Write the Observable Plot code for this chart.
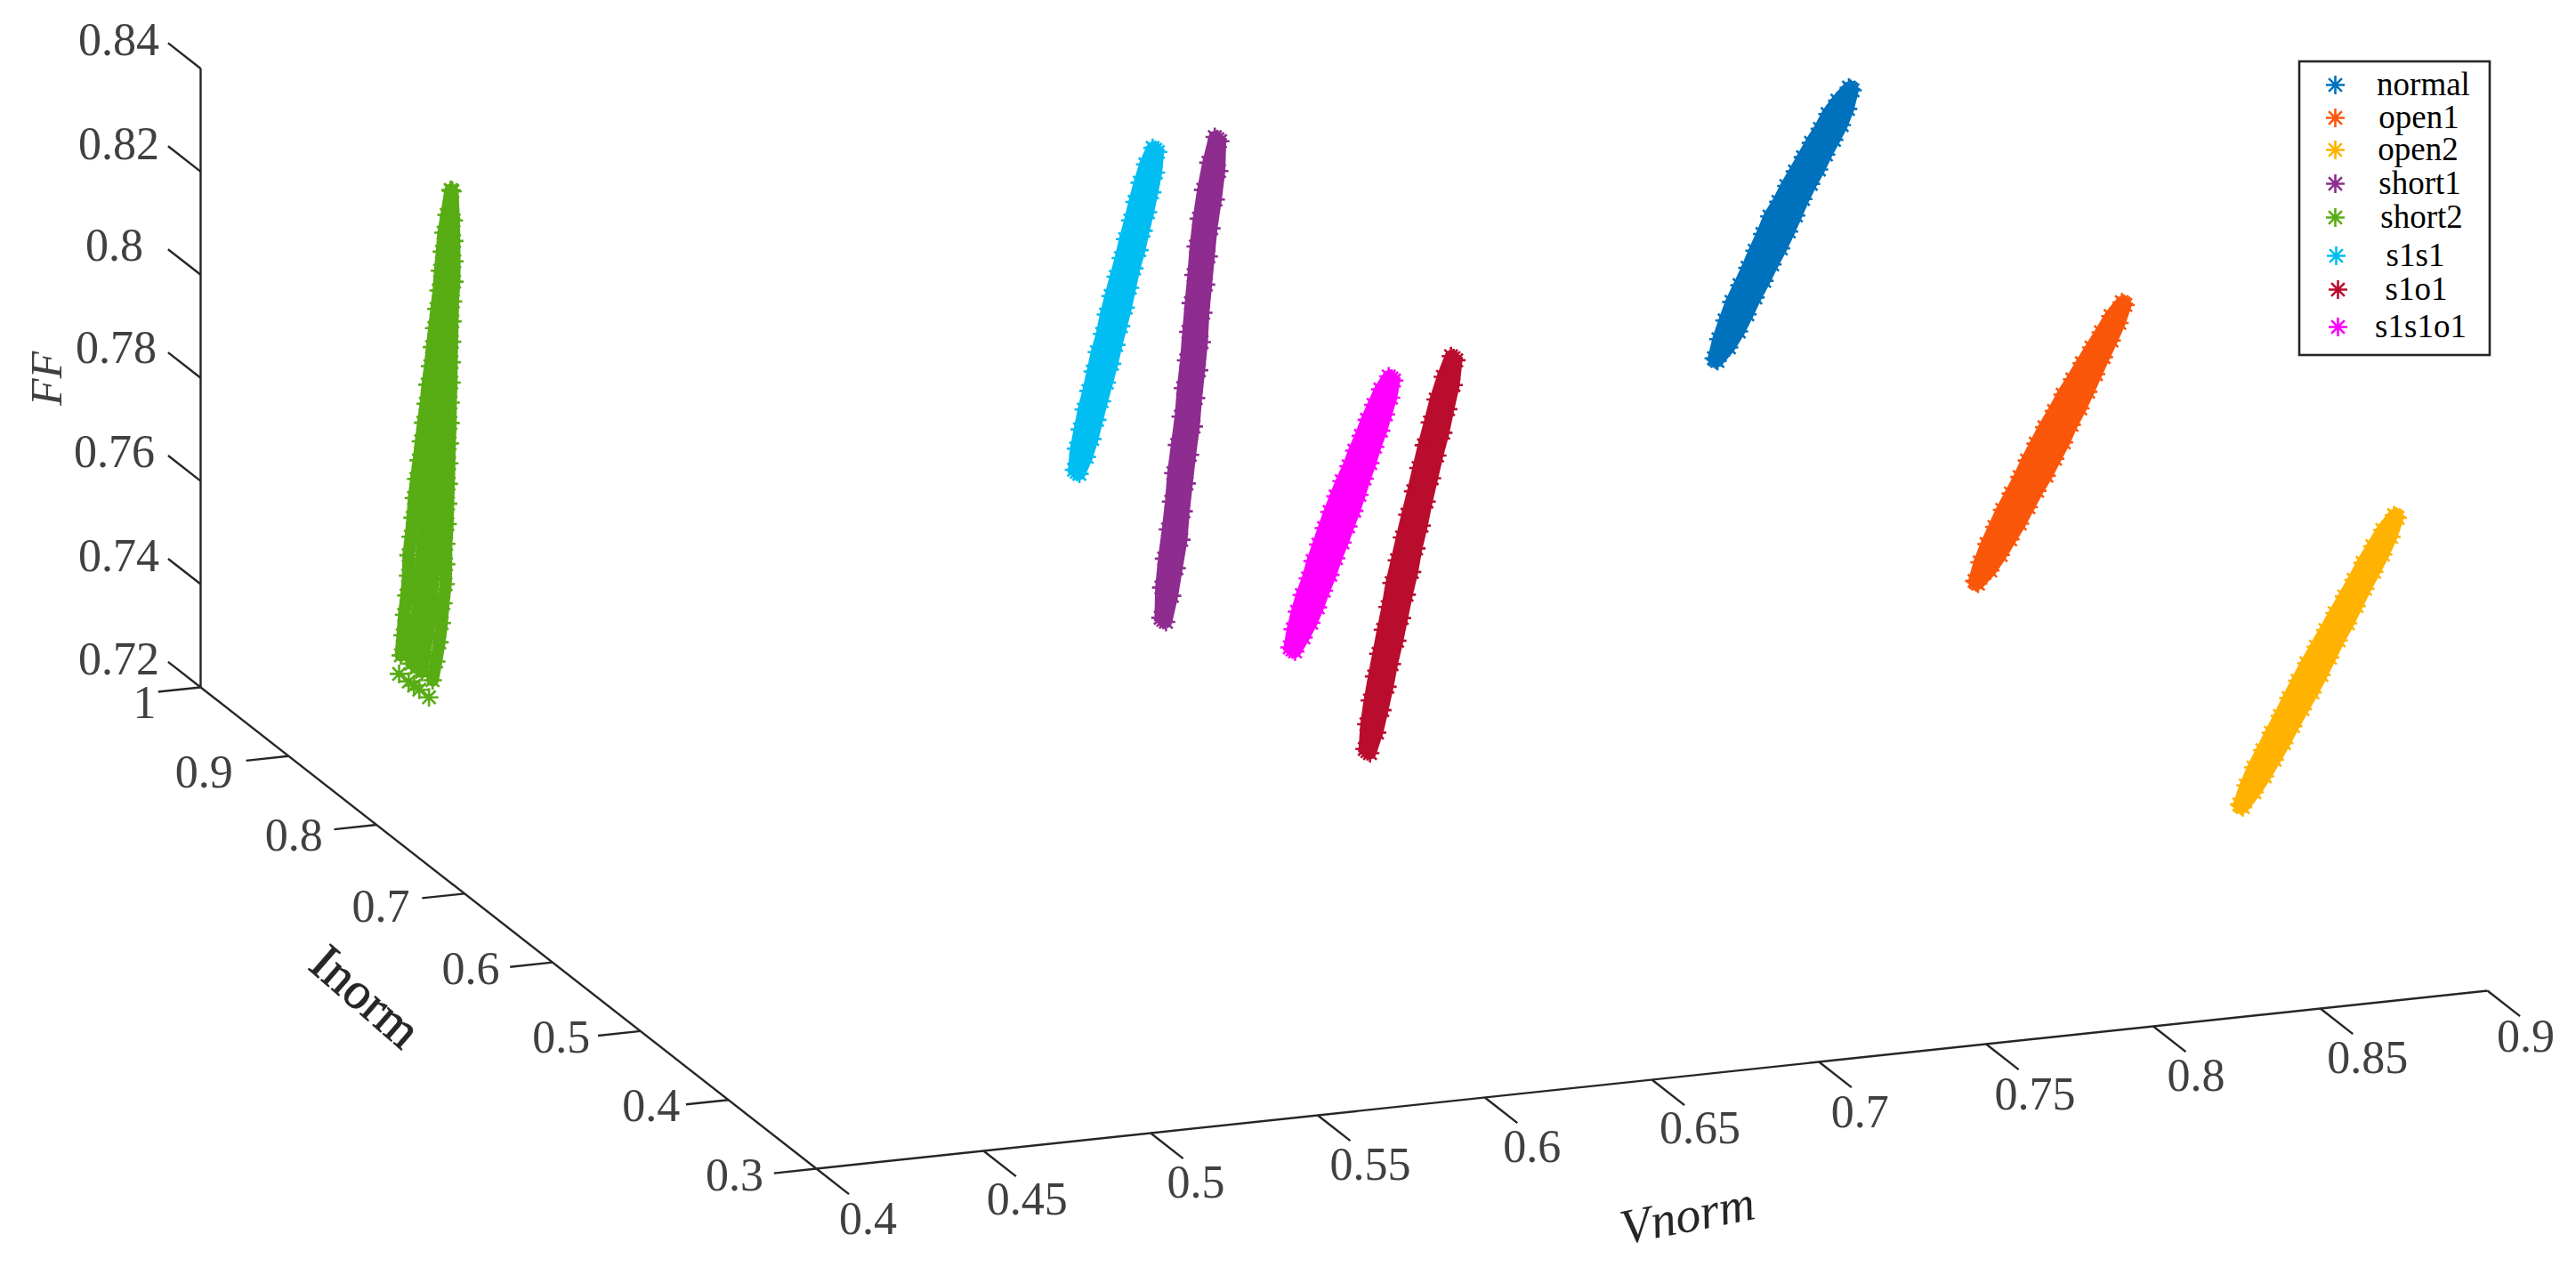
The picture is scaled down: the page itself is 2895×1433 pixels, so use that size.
<!DOCTYPE html>
<html>
<head>
<meta charset="utf-8">
<style>html,body{margin:0;padding:0;background:#fff}svg{display:block}</style>
<script src="https://cdn.jsdelivr.net/npm/d3@7"></script>
<script src="https://cdn.jsdelivr.net/npm/@observablehq/plot@0.6"></script>
</head>
<body>
<div id="chart"></div>
<script>
const seriesNames = ["normal","open1","open2","short1","short2","s1s1","s1o1","s1s1o1"];
const seriesColors = ["#0072BD","#FA570B","#FFB300","#8E2C90","#58AC14","#00BDF2","#BA0D2E","#FF00FF"];

const vTicks = [0.4,0.45,0.5,0.55,0.6,0.65,0.7,0.75,0.8,0.85,0.9];
const iTicks = [0.3,0.4,0.5,0.6,0.7,0.8,0.9,1];
const fTicks = [0.72,0.74,0.76,0.78,0.8,0.82,0.84];

const normalV = [.8270,.8294,.8318,.8341,.8365,.8389,.8413,.8436,.8460,.8484,.8508,.8531,.8555,.8579,.8603,.8626,.8650,.8674];
const normalF = [.7674,.7704,.7736,.7769,.7800,.7832,.7862,.7893,.7924,.7952,.7981,.8009,.8035,.8061,.8088,.8115,.8142,.8171];
const normalIc = [.9,.9,.9,.9,.9,.9,.9,.9,.9,.9,.9,.9,.9,.9,.9,.9,.9,.9];
const normalIa = [.902,.906,.908,.909,.909,.909,.910,.910,.911,.910,.910,.909,.909,.909,.908,.908,.906,.902];
const normalIb = [.898,.894,.892,.891,.891,.890,.890,.889,.889,.890,.891,.891,.891,.892,.892,.892,.894,.898];

const open1V = [.8260,.8286,.8312,.8338,.8364,.8390,.8416,.8441,.8467,.8493,.8519,.8545,.8571,.8597,.8623,.8649,.8675,.8701];
const open1F = [.7643,.7672,.7703,.7733,.7763,.7793,.7823,.7852,.7883,.7913,.7944,.7974,.8003,.8034,.8064,.8093,.8124,.8153];
const open1Ic = [.6,.6,.6,.6,.6,.6,.6,.6,.6,.6,.6,.6,.6,.6,.6,.6,.6,.6];
const open1Ia = [.602,.606,.608,.609,.610,.610,.610,.611,.611,.611,.610,.610,.609,.608,.607,.606,.605,.602];
const open1Ib = [.598,.594,.592,.591,.590,.590,.590,.589,.589,.589,.590,.590,.591,.592,.593,.594,.595,.598];

const open2V = [.8526,.8553,.8580,.8608,.8635,.8662,.8689,.8717,.8744,.8771,.8798,.8826,.8853,.8880,.8907,.8935,.8962,.8989];
const open2F = [.7458,.7489,.7520,.7551,.7582,.7613,.7645,.7676,.7708,.7739,.7770,.7801,.7832,.7863,.7894,.7925,.7956,.7987];
const open2Ic = [.4,.4,.4,.4,.4,.4,.4,.4,.4,.4,.4,.4,.4,.4,.4,.4,.4,.4];
const open2Ia = [.4020,.4050,.4065,.4070,.4075,.4075,.4080,.4085,.4085,.4080,.4075,.4075,.4070,.4065,.4065,.4060,.4050,.4020];
const open2Ib = [.3980,.3950,.3935,.3930,.3925,.3925,.3920,.3915,.3915,.3920,.3925,.3925,.3930,.3935,.3935,.3940,.3950,.3980];

const short1V = [.6354,.6364,.6375,.6388,.6396,.6404,.6415,.6425,.6433,.6441,.6449,.6455,.6463,.6471,.6479,.6492,.6505,.6516];
const short1F = [.7435,.7489,.7543,.7598,.7652,.7706,.7760,.7815,.7869,.7923,.7977,.8033,.8087,.8141,.8195,.8250,.8303,.8356];
const short1Ic = [.8,.8,.8,.8,.8,.8,.8,.8,.8,.8,.8,.8,.8,.8,.8,.8,.8,.8];
const short1Ia = [.8030,.8060,.8070,.8075,.8070,.8075,.8075,.8070,.8075,.8070,.8075,.8070,.8070,.8075,.8070,.8070,.8060,.8030];
const short1Ib = [.7970,.7940,.7930,.7925,.7930,.7925,.7930,.7925,.7930,.7925,.7925,.7930,.7930,.7930,.7930,.7930,.7940,.7970];

const short2V = [.4507,.4515,.4523,.4530,.4537,.4542,.4546,.4550,.4553,.4557,.4561,.4566,.4570,.4574,.4579,.4582,.4587,.4590,.4594,.4598,.4602,.4606,.4609,.4611,.4615,.4619];
const short2F = [.7235,.7269,.7306,.7344,.7381,.7419,.7457,.7494,.7532,.7570,.7608,.7645,.7683,.7720,.7758,.7796,.7833,.7871,.7909,.7947,.7984,.8022,.8060,.8098,.8135,.8187];
const short2Ia = [.967,.968,.969,.970,.970,.970,.971,.970,.969,.969,.968,.967,.966,.965,.964,.963,.962,.961,.960,.959,.958,.958,.957,.956,.954,.951];
const short2Ib = [.956,.956,.956,.957,.957,.957,.957,.957,.956,.956,.956,.956,.955,.955,.955,.954,.954,.954,.953,.953,.953,.953,.952,.952,.951,.950];
const short2Ie = [.95,.95,.95,.95,.95,.95,.95,.95,.95,.95,.95,.95,.95,.95,.95,.95,.95,.95,.95,.95,.95,.95,.95,.95,.95,.95];
const short2Ic = [.944,.944,.944,.943,.943,.943,.943,.943,.944,.944,.944,.944,.945,.945,.945,.946,.946,.946,.947,.947,.947,.947,.948,.948,.949,.950];
const short2Id = [.933,.932,.931,.930,.930,.930,.929,.930,.931,.931,.932,.933,.934,.935,.936,.937,.938,.939,.940,.941,.942,.942,.943,.944,.946,.949];

const s1s1V = [.6095,.6109,.6123,.6136,.6150,.6164,.6178,.6192,.6205,.6219,.6233,.6247,.6261,.6275,.6288,.6302,.6316,.6330];
const s1s1F = [.7740,.7776,.7811,.7848,.7883,.7919,.7955,.7990,.8026,.8061,.8098,.8134,.8169,.8205,.8240,.8277,.8313,.8348];
const s1s1Ic = [.8,.8,.8,.8,.8,.8,.8,.8,.8,.8,.8,.8,.8,.8,.8,.8,.8,.8];
const s1s1Ia = [.8030,.8060,.8070,.8075,.8075,.8080,.8085,.8080,.8085,.8085,.8080,.8075,.8080,.8075,.8075,.8070,.8060,.8030];
const s1s1Ib = [.7970,.7940,.7930,.7925,.7925,.7920,.7915,.7920,.7915,.7915,.7920,.7925,.7920,.7925,.7925,.7930,.7940,.7970];

const s1o1V = [.6175,.6188,.6201,.6215,.6228,.6243,.6257,.6270,.6286,.6300,.6316,.6332,.6348,.6364,.6382,.6398,.6417,.6433];
const s1o1F = [.7593,.7636,.7680,.7725,.7768,.7813,.7856,.7901,.7944,.7988,.8031,.8076,.8120,.8163,.8206,.8250,.8294,.8337];
const s1o1Ic = [.5,.5,.5,.5,.5,.5,.5,.5,.5,.5,.5,.5,.5,.5,.5,.5,.5,.5];
const s1o1Ia = [.5030,.5060,.5070,.5075,.5075,.5080,.5080,.5085,.5085,.5080,.5080,.5075,.5075,.5075,.5075,.5070,.5060,.5030];
const s1o1Ib = [.4970,.4940,.4930,.4925,.4925,.4920,.4920,.4915,.4915,.4920,.4920,.4925,.4925,.4925,.4925,.4930,.4940,.4970];

const s1s1o1V = [.6214,.6231,.6249,.6266,.6284,.6301,.6318,.6336,.6353,.6371,.6388,.6406,.6423,.6440,.6458,.6475,.6493,.6510];
const s1s1o1F = [.7654,.7684,.7714,.7744,.7775,.7806,.7837,.7867,.7897,.7926,.7955,.7984,.8013,.8042,.8072,.8101,.8131,.8159];
const s1s1o1Ic = [.6,.6,.6,.6,.6,.6,.6,.6,.6,.6,.6,.6,.6,.6,.6,.6,.6,.6];
const s1s1o1Ia = [.603,.606,.608,.609,.609,.610,.610,.6105,.6105,.6105,.610,.609,.609,.608,.608,.607,.606,.603];
const s1s1o1Ib = [.597,.594,.592,.591,.591,.590,.590,.5895,.5895,.5895,.590,.591,.591,.592,.592,.593,.594,.597];

const seriesTable = [
  ["normal", normalV, normalF, [normalIa, normalIc, normalIb], 0],
  ["open1", open1V, open1F, [open1Ia, open1Ic, open1Ib], 0],
  ["open2", open2V, open2F, [open2Ia, open2Ic, open2Ib], 0],
  ["short1", short1V, short1F, [short1Ia, short1Ic, short1Ib], 0],
  ["short2", short2V, short2F, [short2Ia, short2Ib, short2Ie, short2Ic, short2Id], 1],
  ["s1s1", s1s1V, s1s1F, [s1s1Ia, s1s1Ic, s1s1Ib], 0],
  ["s1o1", s1o1V, s1o1F, [s1o1Ia, s1o1Ic, s1o1Ib], 0],
  ["s1s1o1", s1s1o1V, s1s1o1F, [s1s1o1Ia, s1s1o1Ic, s1s1o1Ib], 0]
];

// Oblique view of the (V, I, FF) box onto the picture plane
const viewX = (V, I) => 917 + 3756 * (V - 0.4) - 988.6 * (I - 0.3);
const viewY = (V, I, F) => 1313 - 400 * (V - 0.4) - 772.9 * (I - 0.3) - 5796 * (F - 0.72);

const points = [];
const strips = [];
for (const [series, Vs, Fs, lanes, skip] of seriesTable) {
  lanes.forEach((Is, lane) => {
    Vs.forEach((V, k) => {
      const p = {series, lane: series + lane, x: viewX(V, Is[k]), y: viewY(V, Is[k], Fs[k])};
      points.push(p);
      if (k >= skip) strips.push(p);
    });
  });
}

// Axis segments, in data units
const axisSegs = [
  {V1:.4, I1:1, F1:.72, V2:.4, I2:1, F2:.84},
  {V1:.4, I1:.3, F1:.72, V2:.4, I2:1, F2:.72},
  {V1:.4, I1:.3, F1:.72, V2:.9, I2:.3, F2:.72},
  ...fTicks.map(F => ({V1:.4, I1:1, F1:F, V2:.4, I2:1.037, F2:F})),
  ...iTicks.map(I => ({V1:.4, I1:I, F1:.72, V2:.3873, I2:I, F2:.72})),
  ...vTicks.map(V => ({V1:V, I1:.3, F1:.72, V2:V, I2:.263, F2:.72}))
];

const fLabelNudge = [[-92,-31],[-92,-31],[-97,-32],[-95,-33],[-97,-32],[-92,-31],[-92,-32]];
const iLabelNudge = [[-92,8],[-87,7],[-89,7],[-92,8],[-94,15],[-93,12],[-95,19],[-63,18]];
const vLabelNudge = [[58,57],[49,55],[51,56],[59,56],[53,56],[54,55],[46,57],[55,57],[48,56],[53,56],[43,52]];

const tickLabels = [
  ...fTicks.map((F,i) => ({t:String(F), x:viewX(.4,1)+fLabelNudge[i][0], y:viewY(.4,1,F)+fLabelNudge[i][1]})),
  ...iTicks.map((I,i) => ({t:String(I), x:viewX(.4,I)+iLabelNudge[i][0], y:viewY(.4,I,.72)+iLabelNudge[i][1]})),
  ...vTicks.map((V,i) => ({t:String(V), x:viewX(V,.3)+vLabelNudge[i][0], y:viewY(V,.3,.72)+vLabelNudge[i][1]}))
];

const legendY = [95,132,168,206,244,287,325,367];
const legendMarkX = [2624,2624,2624,2624,2624,2625,2627,2627];
const legendTextX = [2723,2718,2717,2719,2721,2714,2715,2720];
const legendRows = seriesNames.map((name,i) => ({name, y: legendY[i], mx: legendMarkX[i], tx: legendTextX[i]}));

// Eight-ray star, the marker of the original figure
const star = {
  draw(ctx, size) {
    const r = Math.sqrt(size / Math.PI), d = r * Math.SQRT1_2;
    ctx.moveTo(-r, 0); ctx.lineTo(r, 0);
    ctx.moveTo(0, -r); ctx.lineTo(0, r);
    ctx.moveTo(-d, -d); ctx.lineTo(d, d);
    ctx.moveTo(-d, d); ctx.lineTo(d, -d);
  }
};

const chart = Plot.plot({
  width: 2895,
  height: 1433,
  margin: 0,
  style: {fontFamily: "'Liberation Serif', serif", background: "#fff"},
  x: {domain: [0, 2895], range: [0, 2895], axis: null},
  y: {domain: [0, 1433], range: [0, 1433], axis: null},
  color: {type: "ordinal", domain: seriesNames, range: seriesColors},
  marks: [
    Plot.link(axisSegs, {
      x1: d => viewX(d.V1, d.I1), y1: d => viewY(d.V1, d.I1, d.F1),
      x2: d => viewX(d.V2, d.I2), y2: d => viewY(d.V2, d.I2, d.F2),
      stroke: "#262626", strokeWidth: 2.4
    }),
    Plot.text(tickLabels, {x: "x", y: "y", text: "t", fontSize: 52, fill: "#404040", textAnchor: "middle", lineAnchor: "middle"}),
    Plot.text(["FF"], {x: [52], y: [425], text: d => d, fontSize: 50, fontStyle: "italic", fill: "#404040", rotate: -90, textAnchor: "middle", lineAnchor: "middle"}),
    Plot.text(["Inorm"], {x: [410], y: [1120], text: d => d, fontSize: 58, fill: "#262626", stroke: "#262626", strokeWidth: 0.8, rotate: 41, textAnchor: "middle", lineAnchor: "middle"}),
    Plot.text(["Vnorm"], {x: [1896], y: [1366], text: d => d, fontSize: 56, fontStyle: "italic", fill: "#262626", rotate: -11, textAnchor: "middle", lineAnchor: "middle"}),
    Plot.line(strips, {x: "x", y: "y", z: "lane", stroke: "series", strokeWidth: 14, strokeLinecap: "round", strokeLinejoin: "round"}),
    Plot.dot(points, {x: "x", y: "y", stroke: "series", symbol: star, r: 10.5, strokeWidth: 2.6, fill: "none"}),
    Plot.rect([0], {x1: [2584], x2: [2798], y1: [69], y2: [399], fill: "#fff", stroke: "#262626", strokeWidth: 2.6}),
    Plot.dot(legendRows, {x: "mx", y: "y", stroke: "name", symbol: star, r: 10.5, strokeWidth: 2.6, fill: "none"}),
    Plot.text(legendRows, {x: "tx", y: "y", text: "name", fontSize: 37, fill: "#000", textAnchor: "middle", lineAnchor: "middle"})
  ]
});
document.getElementById("chart").append(chart);
</script>
</body>
</html>
